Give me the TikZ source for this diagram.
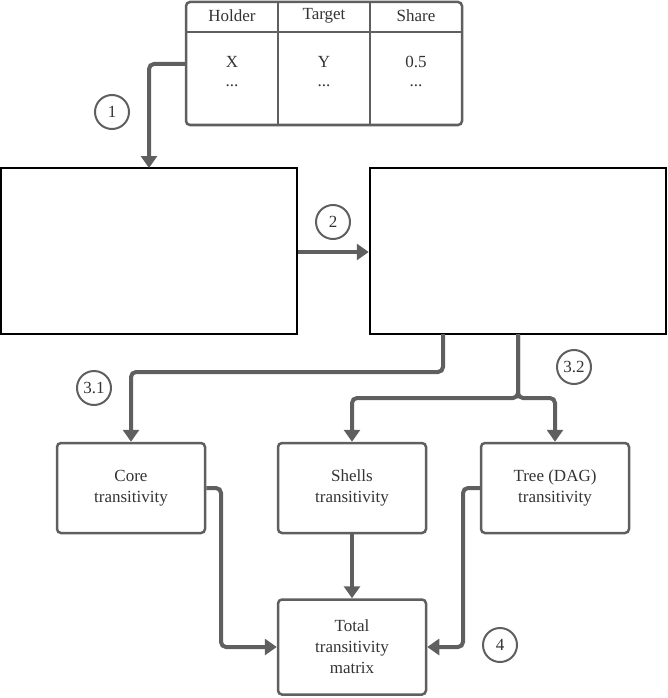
\documentclass[tikz,border=0pt]{standalone}
\usepackage{fontspec}
\setmainfont{Liberation Serif}
\usetikzlibrary{arrows.meta}
\definecolor{gr}{HTML}{5F5F5F}
\definecolor{tx}{HTML}{333333}
\begin{document}
\begin{tikzpicture}[x=1pt,y=-1pt,
  box/.style={draw=gr,line width=2.5pt,rounded corners=4pt,inner sep=0,align=center,font=\fontsize{17}{21}\selectfont,text=tx},
  big/.style={draw=black,line width=2.5pt,inner sep=0},
  num/.style={draw=gr,line width=2pt,circle,minimum size=34pt,inner sep=0,font=\fontsize{17}{20}\selectfont,text=tx},
  arr/.style={draw=gr,line width=4pt,rounded corners=5pt,-{Triangle[length=12pt,width=16pt]}},
  lbl/.style={font=\fontsize{17}{20}\selectfont,text=tx}]
\useasboundingbox (0,0) rectangle (668,698);
% table
\node[box,minimum width=276pt,minimum height=123pt] (tab) at (324,63.5) {};
\draw[gr,line width=2.5pt] (186,32) -- (462,32) (278,2) -- (278,125) (370,2) -- (370,125);
\node[lbl] (h1) at (232,16) {Holder};
\node[lbl] (h2) at (324,16) {Target};
\node[lbl] (h3) at (416,16) {Share};
\node[lbl] (v1) at (232,62) {X};
\node[lbl] (v2) at (324,62) {Y};
\node[lbl] (v3) at (416,62) {0.5};
\node[lbl] (d1) at (232,86) {...};
\node[lbl] (d2) at (324,86) {...};
\node[lbl] (d3) at (416,86) {...};
% big boxes
\node[big,minimum width=296pt,minimum height=166pt] (A) at (149,251) {};
\node[big,minimum width=296pt,minimum height=166pt] (B) at (518,251) {};
% small boxes
\node[box,minimum width=148pt,minimum height=90pt] (core) at (131,488) {Core\\transitivity};
\node[box,minimum width=148pt,minimum height=90pt] (shells) at (352,488) {Shells\\transitivity};
\node[box,minimum width=148pt,minimum height=90pt] (tree) at (555,488) {Tree (DAG)\\transitivity};
\node[box,minimum width=148pt,minimum height=95pt] (total) at (352,647) {Total\\transitivity\\matrix};
% circles
\node[num] (c1) at (112,112) {1};
\node[num] (c2) at (333,222) {2};
\node[num] (c31) at (94,388) {3.1};
\node[num] (c32) at (574,367) {3.2};
\node[num] (c4) at (500,645) {4};
% arrows
\draw[arr] (tab.west |- 0,64) -| (149,168);
\draw[arr] (A.east |- 0,252) -- (B.west |- 0,252);
\draw[arr] (443,334) |- (131,372) -- (core.north);
\draw[arr] (518,334) |- (352,398) -- (shells.north);
\draw[arr] (518,334) |- (555,398) -- (tree.north);
\draw[arr] (shells.south) -- (total.north);
\draw[arr] (core.east) -| (221,647) -- (total.west |- 0,647);
\draw[arr] (tree.west) -| (463,647) -- (total.east |- 0,647);
\end{tikzpicture}
\end{document}
